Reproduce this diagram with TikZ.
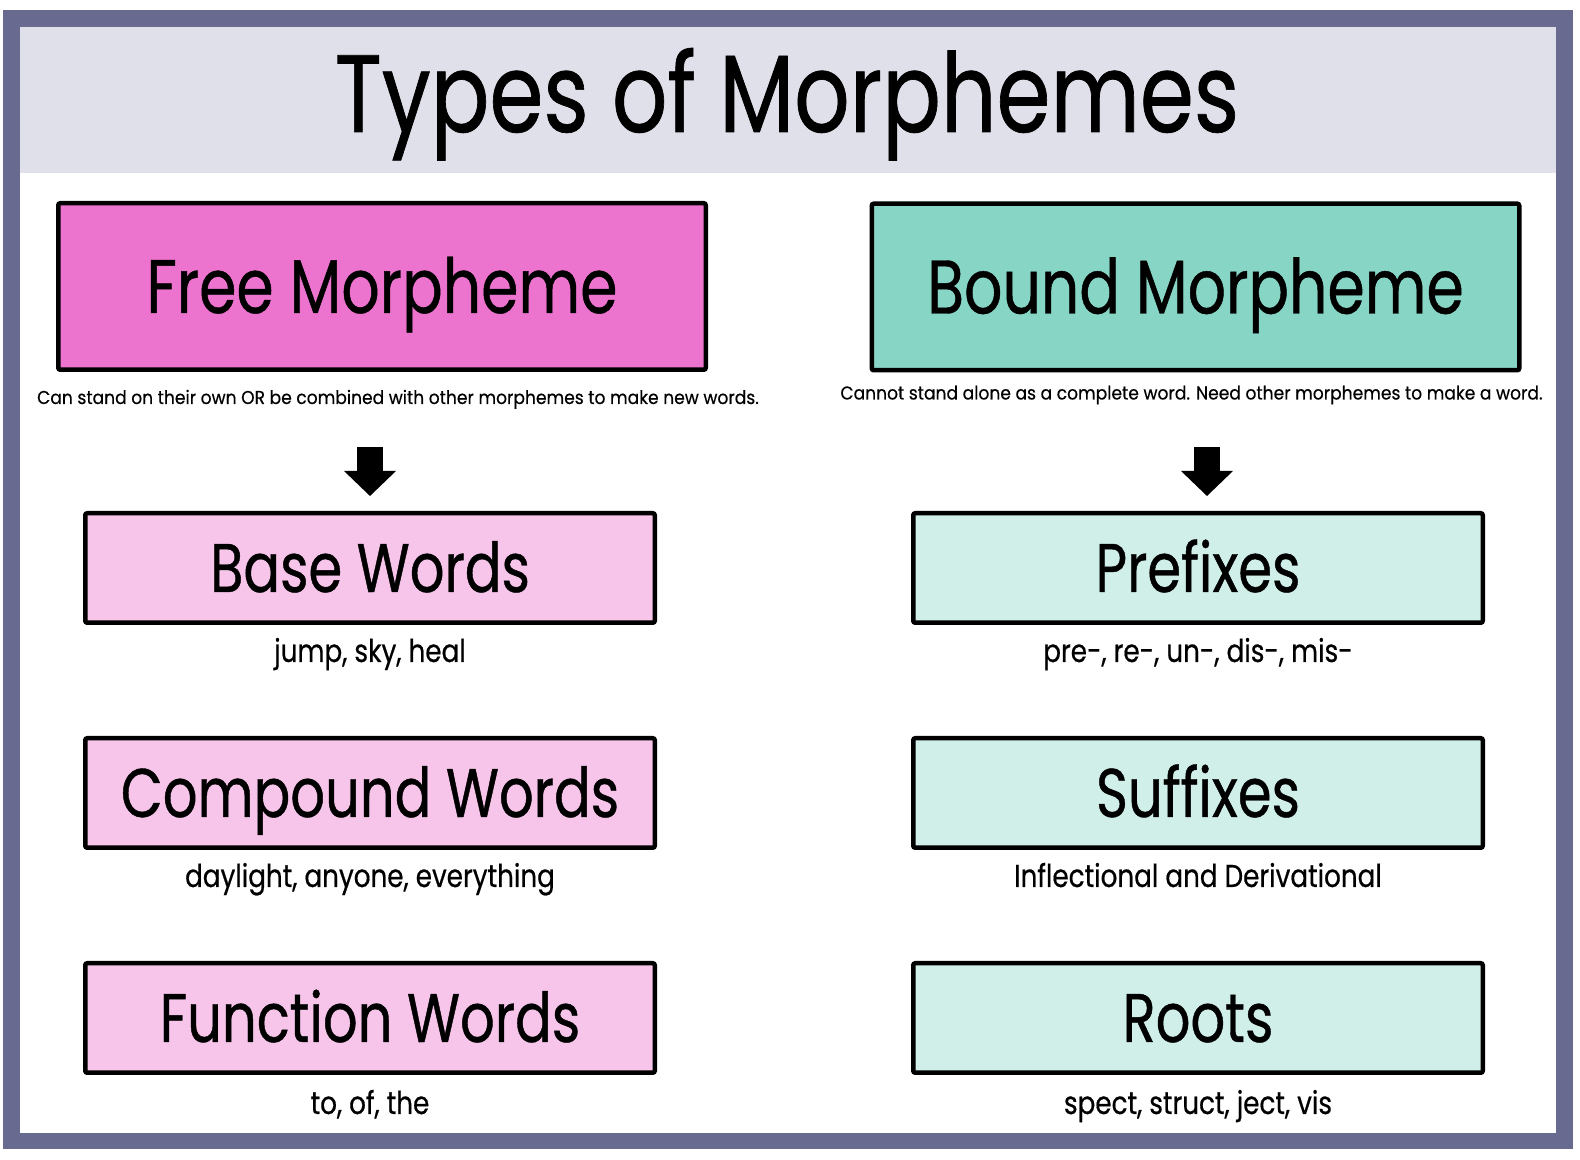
\documentclass[tikz,border=0pt]{standalone}
\usepackage{fontspec}
\setmainfont{Poppins}[FakeStretch=0.83, FakeBold=0.5]
\newfontfamily\headfont{Poppins}[FakeStretch=0.79, FakeBold=0.6]
\newfontfamily\descfont{Poppins}[FakeStretch=0.92, FakeBold=0.4]
\usetikzlibrary{arrows.meta, positioning}
\definecolor{framepurple}{HTML}{686A8F}
\definecolor{headgray}{HTML}{E0E0EA}
\definecolor{freepink}{HTML}{EC74CF}
\definecolor{lightpink}{HTML}{F7C5EA}
\definecolor{boundteal}{HTML}{87D6C5}
\definecolor{lightteal}{HTML}{D1EFE9}
\tikzstyle{mainbox} = [rectangle, rounded corners=1pt, minimum width=323.75pt, minimum height=83.25pt, text centered, draw=black, line width=2.25pt, inner sep=0pt, text height=26.5pt, text depth=0pt, font=\headfont\fontsize{38}{40}\selectfont]
\tikzstyle{freebox} = [mainbox, fill=freepink]
\tikzstyle{boundbox} = [mainbox, fill=boundteal]
\tikzstyle{subbox} = [rectangle, rounded corners=1pt, minimum width=284.75pt, minimum height=54.75pt, text centered, draw=black, line width=2.25pt, inner sep=0pt, text height=24pt, text depth=0pt, font=\headfont\fontsize{34.4}{36}\selectfont]
\tikzstyle{freesub} = [subbox, fill=lightpink]
\tikzstyle{boundsub} = [subbox, fill=lightteal]
\tikzstyle{desc} = [anchor=base, inner sep=0pt, font=\descfont\fontsize{9.3}{11}\selectfont]
\tikzstyle{example} = [anchor=base, inner sep=0pt, font=\fontsize{15.8}{18}\selectfont]
\tikzstyle{blockarrow} = [line width=13pt, -{Triangle[width=26pt, length=12.5pt, line width=0pt]}]

\begin{document}
\begin{tikzpicture}[x=0.5pt, y=0.5pt, node distance=112.5pt]
    % Frame and header
    \useasboundingbox (0,0) rectangle (1580,1160);
    \fill[framepurple] (3,11) rectangle (1573,1150);
    \fill[white] (20,27) rectangle (1556,1133);
    \fill[headgray] (20,987) rectangle (1556,1133);
    \node (title) [anchor=base, inner sep=0pt, font=\headfont\fontsize{55}{60}\selectfont] at (787,1028) {Types of Morphemes};

    % Place nodes
    \node (free) [freebox] at (382,873.5) {Free Morpheme};
    \node (bound) [boundbox] at (1195.5,873) {Bound Morpheme};
    \node (freedesc) [desc, xshift=8pt, yshift=-16pt] at (free.south) {Can stand on their own OR be combined with other morphemes to make new words.};
    \node (bounddesc) [desc, xshift=-2pt, yshift=-13.5pt] at (bound.south) {Cannot stand alone as a complete word. Need other morphemes to make a word.};

    \node (base) [freesub] at (370,592) {Base Words};
    \node (compound) [freesub, below of=base] {Compound Words};
    \node (function) [freesub, below of=compound] {Function Words};
    \node (prefix) [boundsub] at (1198,592) {Prefixes};
    \node (suffix) [boundsub, below of=prefix] {Suffixes};
    \node (root) [boundsub, below of=suffix] {Roots};

    \node (baseex) [example, yshift=-18.5pt] at (base.south) {jump, sky, heal};
    \node (compoundex) [example, yshift=-18.5pt] at (compound.south) {daylight, anyone, everything};
    \node (functionex) [example, yshift=-19.5pt] at (function.south) {to, of, the};
    \node (prefixex) [example, yshift=-18.5pt] at (prefix.south) {pre-, re-, un-, dis-, mis-};
    \node (suffixex) [example, yshift=-18.5pt] at (suffix.south) {Inflectional and Derivational};
    \node (rootex) [example, yshift=-19.5pt] at (root.south) {spect, struct, ject, vis};

    % Block arrows
    \coordinate (freearr) at (370,713);
    \coordinate (boundarr) at (1207,713);
    \draw [blockarrow, shorten >=7.5pt] (freearr) -- (base.north);
    \draw [blockarrow, shorten >=7.5pt] (boundarr) -- (boundarr |- prefix.north);
\end{tikzpicture}
\end{document}
